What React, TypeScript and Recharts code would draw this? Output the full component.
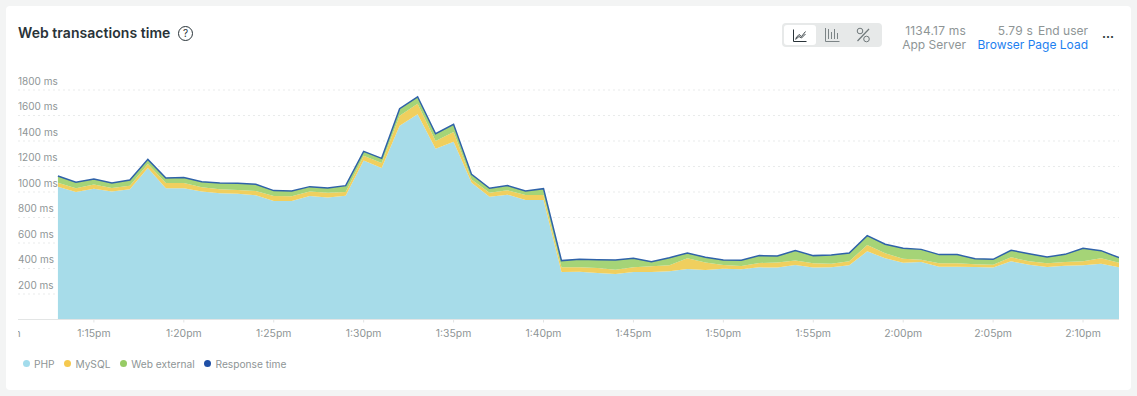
import React from 'react';
import { ComposedChart, Area, Line, XAxis, YAxis, CartesianGrid } from 'recharts';

// minutes after 1:00pm, one sample a minute
const minutes = [
  13, 14, 15, 16, 17, 18, 19, 20, 21, 22, 23, 24, 25, 26, 27, 28, 29, 30, 31, 32,
  33, 34, 35, 36, 37, 38, 39, 40, 41, 42, 43, 44, 45, 46, 47, 48, 49, 50, 51, 52,
  53, 54, 55, 56, 57, 58, 59, 60, 61, 62, 63, 64, 65, 66, 67, 68, 69, 70, 71, 72,
];
const php = [
  1042, 1000, 1026, 1003, 1021, 1188, 1029, 1029, 1003, 990, 987, 974, 930, 930, 969, 956,
  971, 1248, 1188, 1520, 1609, 1340, 1395, 1073, 963, 979, 937, 937,
  373, 375, 365, 357, 373, 373, 378, 396, 388, 399, 394, 409, 407, 428, 407,
  409, 425, 535, 480, 446, 451, 414, 414, 412, 407, 456, 430, 412, 422, 425, 438, 409,
];
const mysql = [
  31, 29, 32, 29, 29, 32, 42, 42, 34, 31, 29, 34, 39, 36, 34, 39,
  29, 37, 39, 78, 84, 60, 75, 26, 32, 34, 39, 39,
  36, 34, 39, 34, 36, 44, 47, 84, 60, 28, 26, 34, 41, 34, 34,
  29, 31, 49, 39, 31, 18, 27, 27, 21, 23, 32, 26, 29, 29, 31, 42, 37,
];
const webExternal = [
  53, 47, 44, 39, 44, 36, 39, 42, 44, 50, 52, 52, 42, 42, 39, 37,
  50, 34, 37, 55, 54, 57, 61, 39, 34, 37, 32, 50,
  53, 63, 65, 76, 71, 37, 60, 42, 40, 40, 44, 58, 50, 78, 60,
  68, 66, 74, 71, 81, 81, 68, 68, 44, 42, 55, 60, 49, 60, 102, 60, 39,
];
const responseTime = [
  1126, 1076, 1102, 1071, 1094, 1256, 1110, 1113, 1081, 1071, 1068, 1060, 1011, 1008, 1042, 1032,
  1050, 1319, 1264, 1653, 1747, 1457, 1531, 1138, 1029, 1050, 1008, 1026,
  462, 472, 469, 467, 480, 454, 485, 522, 488, 467, 464, 501, 498, 540, 501,
  506, 522, 658, 590, 558, 550, 509, 509, 477, 472, 543, 516, 490, 511, 558, 540, 485,
];

const xTicks = [10, 15, 20, 25, 30, 35, 40, 45, 50, 55, 60, 65, 70];
const xTickLabels = [
  '1:10pm', '1:15pm', '1:20pm', '1:25pm', '1:30pm', '1:35pm', '1:40pm',
  '1:45pm', '1:50pm', '1:55pm', '2:00pm', '2:05pm', '2:10pm',
];
const yTicks = [200, 400, 600, 800, 1000, 1200, 1400, 1600, 1800];

const legendNames = ['PHP', 'MySQL', 'Web external', 'Response time'];
const legendColors = ['#a3dcec', '#f5c94f', '#97cb65', '#1f4fa6'];

const data = minutes.map((minute, i) => ({
  minute,
  php: php[i],
  mysql: mysql[i],
  webExternal: webExternal[i],
  responseTime: responseTime[i],
}));

const FONT = 'Inter, sans-serif';
const GREY = '#8e9596';

const abs = (left: number, top: number, extra = {}) => ({ position: 'absolute', left, top, ...extra });

const rightText = (right: number, top: number, color = GREY) => ({
  position: 'absolute',
  right: 1137 - right,
  top,
  fontSize: 12,
  lineHeight: '15px',
  color,
  whiteSpace: 'nowrap',
});

const Toggle = () => (
  <div style={abs(782, 23, { width: 100, height: 24, background: '#e7e9e9', borderRadius: 4 })}>
    <div style={abs(2, 2, { width: 32, height: 20, background: '#fff', borderRadius: 3 })} />
    <svg width={100} height={24} style={{ position: 'absolute', left: 0, top: 0 }} fill="none">
      <path d="M11.5 6.5v12h13" stroke="#293338" />
      <path d="M13.5 15.5l3.5-4 2.5 2 4-5M13.5 16.5l3.5-3 2.5 1.5 4-4" stroke="#293338" strokeWidth={0.9} />
      <path d="M43.5 5v13.5h14M46.5 6v10M49.5 9v7M52.5 6v10M55.5 10v6" stroke="#7c8486" />
      <path d="M75.5 18L87 6" stroke="#6f787a" strokeWidth={1.2} />
      <circle cx={78} cy={8} r={2.8} stroke="#6f787a" />
      <circle cx={84.5} cy={16} r={2.8} stroke="#6f787a" />
    </svg>
  </div>
);

const HelpIcon = () => (
  <div
    style={abs(178, 26, {
      width: 13,
      height: 13,
      border: '1px solid #293338',
      borderRadius: '50%',
      fontSize: 10,
      lineHeight: '13px',
      textAlign: 'center',
      color: '#293338',
    })}
  >
    ?
  </div>
);

const App = () => {
  return (
    <div style={abs(0, 0, { width: 1137, height: 396, background: '#f3f4f4', overflow: 'hidden', fontFamily: FONT })}>
      <div style={abs(6, 6, { width: 1125, height: 384, background: '#fff', borderRadius: 4 })} />

      <div style={abs(18, 24, { fontSize: 14, lineHeight: '18px', fontWeight: 600, color: '#293338', whiteSpace: 'nowrap', letterSpacing: 0.05 })}>
        Web transactions time
      </div>
      <HelpIcon />
      <Toggle />

      <div style={{ ...rightText(966, 23), letterSpacing: 0.2 }}>1134.17 ms</div>
      <div style={rightText(966, 37)}>App Server</div>
      <div style={{ ...rightText(1033, 23), letterSpacing: 0.2 }}>5.79 s</div>
      <div style={rightText(1088, 23)}>End user</div>
      <div style={rightText(1088, 37, '#1d7ff0')}>Browser Page Load</div>
      <div style={abs(1102, 26, { fontSize: 12, lineHeight: '15px', fontWeight: 700, color: '#293338' })}>...</div>

      <div style={abs(18, 70)}>
        <ComposedChart width={1101} height={290} data={data} margin={{ top: 20, right: 0, bottom: 10.5, left: 0 }}>
          <CartesianGrid vertical={false} stroke="#e9ebeb" strokeDasharray="2 3" />
          <XAxis
            dataKey="minute"
            type="number"
            domain={[10.78, 72]}
            allowDataOverflow
            ticks={xTicks}
            interval={0}
            height={30}
            tickSize={3}
            tickMargin={7}
            tickFormatter={(m: number) => xTickLabels[xTicks.indexOf(m)]}
            tick={{ fontSize: 10.4, fill: GREY, fontFamily: FONT }}
            stroke="#e3e5e5"
          />
          <YAxis
            mirror
            domain={[0, 1800]}
            ticks={yTicks}
            interval={0}
            axisLine={false}
            tickLine={false}
            tickSize={0}
            tickMargin={0}
            tickFormatter={(v: number) => `${v} ms`}
            tick={{ fontSize: 10, fill: GREY, fontFamily: FONT, dy: -9, textAnchor: 'start' }}
          />
          <Area dataKey="php" stackId="a" type="linear" stroke="none" fill="#a7dce9" fillOpacity={1} isAnimationActive={false} />
          <Area dataKey="mysql" stackId="a" type="linear" stroke="none" fill="#f0cf5e" fillOpacity={1} isAnimationActive={false} />
          <Area dataKey="webExternal" stackId="a" type="linear" stroke="none" fill="#a5d477" fillOpacity={1} isAnimationActive={false} />
          <Line dataKey="responseTime" type="linear" stroke="#2f62a9" strokeWidth={1.5} dot={false} isAnimationActive={false} />
        </ComposedChart>
      </div>

      <div style={abs(23, 357, { display: 'flex', gap: 9.8, alignItems: 'center', height: 13 })}>
        {legendNames.map((name, i) => (
          <div key={name} style={{ display: 'flex', alignItems: 'center', gap: 4, fontSize: 10.2, color: GREY }}>
            <span style={{ width: 7, height: 7, borderRadius: '50%', background: legendColors[i] }} />
            {name}
          </div>
        ))}
      </div>
    </div>
  );
};

export default App;
